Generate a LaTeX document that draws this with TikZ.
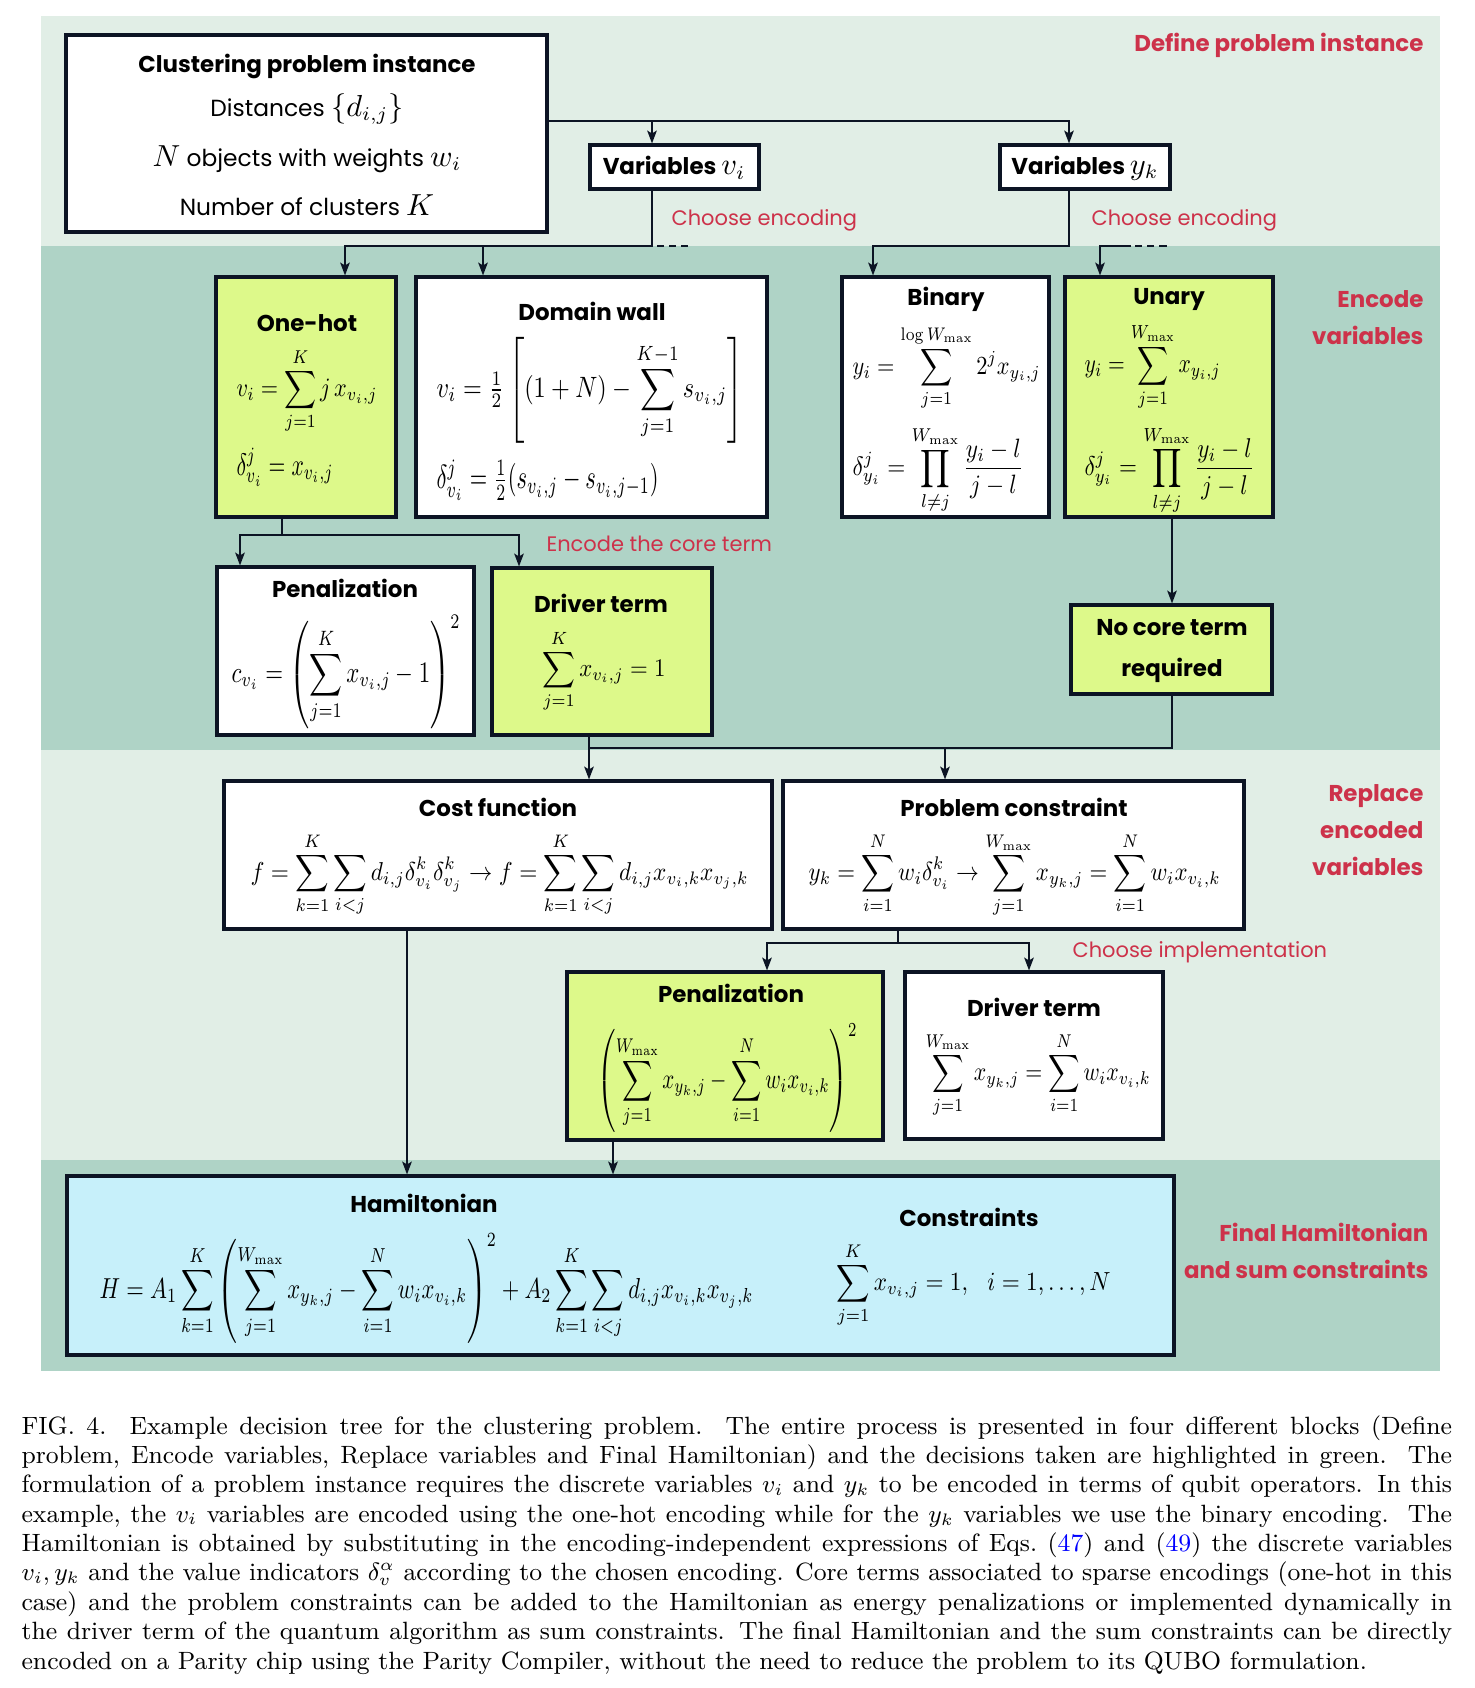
\documentclass[tikz,border=0pt]{standalone}
\usepackage[no-math]{fontspec}
\usepackage{amsmath}
\usepackage{graphicx}
\usetikzlibrary{arrows.meta,fit}
\newfontfamily\pop{Poppins}
\newdimen\pxu \pxu=0.36pt
\definecolor{bandL}{RGB}{225,238,230}
\definecolor{bandD}{RGB}{175,211,198}
\definecolor{boxG}{RGB}{221,249,138}
\definecolor{boxB}{RGB}{199,240,250}
\definecolor{redL}{RGB}{205,50,74}
\definecolor{ink}{RGB}{12,20,36}
\newcommand\Wm{W_{\mathrm{max}}}
% formula scaled to reference width and total height (in px)
\newcommand\fx[3]{\resizebox*{#1\pxu}{#2\pxu}{$\displaystyle #3$}}
% larger math inside sans labels
\newcommand\lm[1]{{\fontsize{10.6pt}{12pt}\selectfont$#1$}}
\tikzset{
  box/.style={draw=ink, line width=1.1pt, inner sep=0pt, fill=white},
  gbox/.style={box, fill=boxG},
  bbox/.style={box, fill=boxB},
  ttl/.style={font=\pop\bfseries\fontsize{8.25pt}{10pt}\selectfont, inner sep=0pt},
  lab/.style={font=\pop\fontsize{8.4pt}{10pt}\selectfont, inner sep=0pt},
  fm/.style={inner sep=0pt, anchor=west},
  redr/.style={font=\pop\fontsize{7.55pt}{9.6pt}\selectfont, text=redL, inner sep=0pt},
  redb/.style={font=\pop\bfseries\fontsize{8.25pt}{13.3pt}\selectfont, text=redL, inner sep=0pt, align=right},
  conn/.style={draw=ink, line width=0.8pt},
  arr/.style={conn, -{Stealth[length=4.6pt,width=3.4pt,inset=1pt]}},
  dsh/.style={conn, dash pattern=on 2.6pt off 1.8pt},
}
\begin{document}
\begin{tikzpicture}[x=0.36pt, y=-0.36pt]
\useasboundingbox (0,0) rectangle (1474,1688);
% bands
\fill[bandL] (41,16) rectangle (1440,246);
\fill[bandD] (41,246) rectangle (1440,750);
\fill[bandL] (41,750) rectangle (1440,1160);
\fill[bandD] (41,1160) rectangle (1440,1371);

% boxes
\node[box, fit={(66,35) (547,232)}] (clus) {};
\node[box, fit={(590,145) (759,189)}] (vi) {};
\node[box, fit={(1000,145) (1170,189)}] (yk) {};
\node[gbox, fit={(216,277) (396,517)}] (oh) {};
\node[box, fit={(416,277) (767,517)}] (dw) {};
\node[box, fit={(842,277) (1049,517)}] (bin) {};
\node[gbox, fit={(1065,277) (1273,517)}] (un) {};
\node[box, fit={(217,567) (474,735)}] (pen) {};
\node[gbox, fit={(492,568) (712,735)}] (drv) {};
\node[gbox, fit={(1071,605) (1272,694)}] (nc) {};
\node[box, fit={(224,781) (772,929)}] (cost) {};
\node[box, fit={(783,781) (1244,929)}] (pc) {};
\node[gbox, fit={(567,972) (883,1140)}] (pen2) {};
\node[box, fit={(905,972) (1163,1139)}] (drv2) {};
\node[bbox, fit={(67,1176) (1174,1355)}] (ham) {};

% connectors
\coordinate (a1) at (652,121);
\coordinate (a2) at (1069,121);
\draw[arr] (clus.east |- a1) -- (a2) -- (a2 |- yk.north);
\draw[arr] (a1) -- (a1 |- vi.north);

\coordinate (b0) at (652,246);
\coordinate (b1) at (345,246);
\coordinate (b2) at (483,246);
\coordinate (b3) at (657,246);
\coordinate (b4) at (688,246);
\draw[arr] (b0 |- vi.south) -- (b0) -- (b1) -- (b1 |- oh.north);
\draw[arr] (b2) -- (b2 |- dw.north);
\draw[dsh] (b3) -- (b4);

\coordinate (c0) at (1069,246);
\coordinate (c1) at (873,246);
\coordinate (c2) at (1100,246);
\coordinate (c3) at (1131,246);
\coordinate (c4) at (1135,246);
\coordinate (c5) at (1168,246);
\draw[arr] (c0 |- yk.south) -- (c0) -- (c1) -- (c1 |- bin.north);
\draw[arr] (c3) -- (c2) -- (c2 |- un.north);
\draw[dsh] (c4) -- (c5);

\coordinate (d0) at (282,535);
\coordinate (d1) at (240,535);
\coordinate (d2) at (519,535);
\draw[conn] (d0 |- oh.south) -- (d0);
\draw[arr] (d0) -- (d1) -- (d1 |- pen.north);
\draw[arr] (d0) -- (d2) -- (d2 |- drv.north);

\coordinate (e0) at (1172,400);
\draw[arr] (e0 |- un.south) -- (e0 |- nc.north);

\coordinate (g0) at (589,748);
\coordinate (g1) at (945,748);
\coordinate (g2) at (1172,748);
\draw[conn] (g2 |- nc.south) -- (g2) -- (g0);
\draw[arr] (g0 |- drv.south) -- (g0) -- (g0 |- cost.north);
\draw[arr] (g1) -- (g1 |- pc.north);

\coordinate (h0) at (407,1000);
\draw[arr] (h0 |- cost.south) -- (h0 |- ham.north);

\coordinate (i0) at (898,943);
\coordinate (i1) at (767,943);
\coordinate (i2) at (1029,943);
\draw[conn] (i0 |- pc.south) -- (i0);
\draw[arr] (i0) -- (i1) -- (i1 |- pen2.north);
\draw[arr] (i0) -- (i2) -- (i2 |- drv2.north);

\coordinate (j0) at (613,1160);
\draw[arr] (j0 |- pen2.south) -- (j0 |- ham.north);

% texts: problem instance
\node[ttl] (t1) at (307,66) {Clustering problem instance};
\node[lab] (t2) at (307,109) {Distances \lm{\{d_{i,j}\}}};
\node[lab] (t3) at (307,159) {\lm{N} objects with weights \lm{w_i}};
\node[lab] (t4) at (307,205) {Number of clusters \lm{K}};
\node[ttl] (tvi) at (674,168) {Variables \lm{v_i}};
\node[ttl] (tyk) at (1085,168) {Variables \lm{y_k}};

% encodings
\node[ttl] (toh) at (307,323) {One-hot};
\node[fm] (f1) at (236,391) {\fx{141}{86}{v_i = \sum_{j=1}^{K} j\,x_{v_i,j}}};
\node[fm] (f2) at (236,467) {\fx{97}{38}{\delta^j_{v_i} = x_{v_i,j}}};
\node[ttl] (tdw) at (592,311) {Domain wall};
\node[fm] (f3) at (436,390) {\fx{307}{106}{v_i = \tfrac{1}{2}\left[(1+N) - \sum_{j=1}^{K-1} s_{v_i,j}\right]}};
\node[fm] (f4) at (436,480) {\fx{222}{41}{\delta^j_{v_i} = \tfrac{1}{2}(s_{v_i,j} - s_{v_i,j-1})}};
\node[ttl] (tbin) at (946,299) {Binary};
\node[fm] (f5) at (852,368) {\fx{188}{86}{y_i = \sum_{j=1}^{\log \Wm} 2^j x_{y_i,j}}};
\node[fm] (f6) at (852,470) {\fx{171}{87}{\delta^j_{y_i} = \prod_{l\neq j}^{\Wm} \frac{y_i - l}{j - l}}};
\node[ttl] (tun) at (1169,299) {Unary};
\node[fm] (f7) at (1084,367) {\fx{136}{88}{y_i = \sum_{j=1}^{\Wm} x_{y_i,j}}};
\node[fm] (f8) at (1084,470) {\fx{170}{89}{\delta^j_{y_i} = \prod_{l\neq j}^{\Wm} \frac{y_i - l}{j - l}}};

% core term
\node[ttl] (tpen) at (345,588) {Penalization};
\node[fm] (f9) at (231,672) {\fx{229}{113}{c_{v_i} = \left(\sum_{j=1}^{K} x_{v_i,j} - 1\right)^{2}}};
\node[ttl] (tdrv) at (601,603) {Driver term};
\node[fm] (f10) at (542,671) {\fx{123}{82}{\sum_{j=1}^{K} x_{v_i,j} = 1}};
\node[ttl, align=center, font=\pop\bfseries\fontsize{8.25pt}{14.8pt}\selectfont] (tnc) at (1172,651) {No core term\\required};

% replace
\node[ttl] (tcost) at (498,807) {Cost function};
\node[fm] (f11) at (250,875) {\fx{498}{84}{f = \sum_{k=1}^{K}\sum_{i<j} d_{i,j}\delta^k_{v_i}\delta^k_{v_j} \to f = \sum_{k=1}^{K}\sum_{i<j} d_{i,j}x_{v_i,k}x_{v_j,k}}};
\node[ttl] (tpc) at (1014,807) {Problem constraint};
\node[fm] (f12) at (808,875) {\fx{412}{85}{y_k = \sum_{i=1}^{N} w_i\delta^k_{v_i} \to \sum_{j=1}^{\Wm} x_{y_k,j} = \sum_{i=1}^{N} w_i x_{v_i,k}}};
\node[ttl] (tpen2) at (731,993) {Penalization};
\node[fm] (f13) at (597,1078) {\fx{260}{108}{\left(\sum_{j=1}^{\Wm} x_{y_k,j} - \sum_{i=1}^{N} w_i x_{v_i,k}\right)^{2}}};
\node[ttl] (tdrv2) at (1034,1007) {Driver term};
\node[fm] (f14) at (925,1075) {\fx{225}{86}{\sum_{j=1}^{\Wm} x_{y_k,j} = \sum_{i=1}^{N} w_i x_{v_i,k}}};

% final
\node[ttl] (tham) at (424,1203) {Hamiltonian};
\node[fm] (f15) at (99,1288) {\fx{654}{110}{H = A_1\sum_{k=1}^{K}\left(\sum_{j=1}^{\Wm} x_{y_k,j} - \sum_{i=1}^{N} w_i x_{v_i,k}\right)^{2} + A_2\sum_{k=1}^{K}\sum_{i<j} d_{i,j}x_{v_i,k}x_{v_j,k}}};
\node[ttl] (tcon) at (969,1217) {Constraints};
\node[fm] (f16) at (836,1285) {\fx{274}{85}{\sum_{j=1}^{K} x_{v_i,j} = 1,\ \ i = 1,\ldots,N}};

% red labels
\node[redb, anchor=east] (r1) at (1424,45) {Define problem instance};
\node[redr, anchor=west] (r2) at (671,220) {Choose encoding};
\node[redr, anchor=west] (r3) at (1091,220) {Choose encoding};
\node[redb, anchor=east] (r4) at (1424,318) {Encode\\variables};
\node[redr, anchor=west] (r5) at (546,544) {Encode the core term};
\node[redb, anchor=east] (r6) at (1424,830) {Replace\\encoded\\variables};
\node[redr, anchor=west] (r7) at (1072,952) {Choose implementation};
\node[redb, anchor=east] (r8) at (1429,1251) {Final Hamiltonian\\and sum constraints};

% caption
\node[anchor=base west, inner sep=0pt] (cap) at (21,1434) {\parbox[t]{515pt}{\fontsize{9pt}{10.58pt}\selectfont
\hbox to\hsize{FIG. 4.\ \ Example decision tree for the clustering problem.\ \ The entire process is presented in four different blocks (Define}
\hbox to\hsize{problem, Encode variables, Replace variables and Final Hamiltonian) and the decisions taken are highlighted in green.\ \ The}
\hbox to\hsize{formulation of a problem instance requires the discrete variables $v_i$ and $y_k$ to be encoded in terms of qubit operators. In this}
\hbox to\hsize{example, the $v_i$ variables are encoded using the one-hot encoding while for the $y_k$ variables we use the binary encoding.\ \ The}
\hbox to\hsize{Hamiltonian is obtained by substituting in the encoding-independent expressions of Eqs.\ (\textcolor{blue}{47}) and (\textcolor{blue}{49}) the discrete variables}
\hbox to\hsize{$v_i, y_k$ and the value indicators $\delta_v^\alpha$ according to the chosen encoding. Core terms associated to sparse encodings (one-hot in this}
\hbox to\hsize{case) and the problem constraints can be added to the Hamiltonian as energy penalizations or implemented dynamically in}
\hbox to\hsize{the driver term of the quantum algorithm as sum constraints. The final Hamiltonian and the sum constraints can be directly}
\hbox{encoded on a Parity chip using the Parity Compiler, without the need to reduce the problem to its QUBO formulation.}
}};
\end{tikzpicture}
\end{document}
